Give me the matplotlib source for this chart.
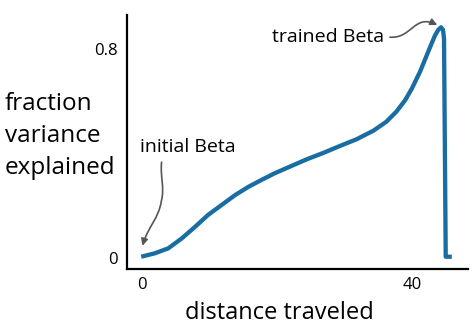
import matplotlib
matplotlib.use("Agg")
import matplotlib.pyplot as plt
from matplotlib.patches import FancyArrowPatch
from matplotlib.path import Path

plt.rcParams['font.family'] = ['Open Sans', 'DejaVu Sans']

# distance traveled vs. fraction of variance explained
distance = [-0.1, 1.9, 3.9, 5.9, 7.9, 9.8, 11.8, 13.8, 15.8, 17.7, 19.7, 22.0,
            24.4, 26.9, 29.3, 31.8, 34.3, 36.2, 37.7, 39.0, 40.0, 41.2, 42.4,
            43.4, 43.9, 44.3, 44.6, 44.75, 45.0, 45.9]
fraction = [0.005, 0.018, 0.037, 0.075, 0.120, 0.165, 0.203, 0.241, 0.273, 0.299,
            0.325, 0.351, 0.378, 0.403, 0.429, 0.455, 0.488, 0.522, 0.561, 0.605,
            0.650, 0.714, 0.790, 0.852, 0.874, 0.884, 0.874, 0.840, 0.005, 0.005]
xticks = [0, 40]
yticks = [0, 0.8]
ytick_labels = ["0", "0.8"]

LINE = "#1a6da3"
GRAY = "#555555"

fig = plt.figure(figsize=(4.74, 3.30), dpi=100)
ax = fig.add_axes([127/474, 1 - 269/330, (468 - 127)/474, (269 - 15)/330])

ax.plot(distance, fraction, color=LINE, lw=3.1, solid_joinstyle='round',
        solid_capstyle='butt')

ax.set_xlim(-2.2, 48.3)
ax.set_ylim(-0.042, 0.931)
ax.set_xticks(xticks)
ax.set_yticks(yticks)
ax.set_yticklabels(ytick_labels)
ax.tick_params(length=0, labelsize=12)
ax.tick_params(axis='y', pad=7)
ax.tick_params(axis='x', pad=6)
for side in ("top", "right"):
    ax.spines[side].set_visible(False)
for side in ("left", "bottom"):
    ax.spines[side].set_linewidth(1.6)

# axis titles
fig.text(5/474, 1 - 136/330, "fraction\nvariance\nexplained", ha='left',
         va='center', fontsize=17.5, linespacing=1.42)
fig.text(279/474, 1 - 313/330, "distance traveled", ha='center', va='center',
         fontsize=17)

# annotations
ax.text(-0.3, 0.427, "initial Beta", ha='left', va='center', fontsize=14)
ax.text(35.9, 0.846, "trained Beta", ha='right', va='center', fontsize=14)

init_path = Path([(2.92, 0.367), (2.7, 0.31), (3.4, 0.27), (2.9, 0.22),
                  (2.5, 0.15), (0.9, 0.12), (0.10, 0.047)],
                 [Path.MOVETO, Path.CURVE4, Path.CURVE4, Path.CURVE4,
                  Path.CURVE4, Path.CURVE4, Path.CURVE4])
trained_path = Path([(36.74, 0.846), (40.0, 0.84), (40.3, 0.935), (43.75, 0.893)],
                    [Path.MOVETO, Path.CURVE4, Path.CURVE4, Path.CURVE4])
for p in (init_path, trained_path):
    arrow = FancyArrowPatch(path=p, arrowstyle='-|>', mutation_scale=10,
                            color=GRAY, lw=1.2, transform=ax.transData)
    ax.add_patch(arrow)

fig.savefig("out.png", dpi=100)
